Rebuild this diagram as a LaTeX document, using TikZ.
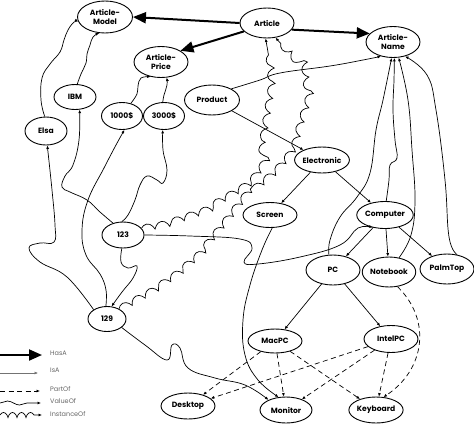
\documentclass[tikz,border=0pt]{standalone}
\usepackage{fontspec}
\setmainfont{Poppins}
\usetikzlibrary{shapes.geometric,arrows.meta,decorations.pathmorphing}
\begin{document}
\begin{tikzpicture}[x=1pt,y=-1pt,
  nd/.style={ellipse, draw, line width=0.9pt, inner sep=0pt, align=center, font=\fontsize{7.6}{8.4}\selectfont\bfseries},
  hasa/.style={line width=2pt, -{Triangle[length=13pt,width=11pt]}},
  isa/.style={line width=0.7pt, -{Latex[length=3.5pt,width=3pt]}},
  part/.style={line width=0.7pt, dash pattern=on 5pt off 3.5pt, -{Latex[length=3.5pt,width=3pt]}},
  val/.style={line width=0.7pt, -{Latex[length=3.5pt,width=3pt]}},
  inst/.style={line width=0.7pt, -{Latex[length=3.5pt,width=3pt]}, decorate,
    decoration={coil, aspect=0.6, segment length=15pt, amplitude=3.2pt, post length=6pt}},
  lg/.style={anchor=west, inner sep=0pt, text=black!60, font=\fontsize{6.5}{7}\selectfont}]
\useasboundingbox (0,0) rectangle (474,424);

% nodes
\node[nd, minimum width=55pt, minimum height=32pt] (am) at (105,17) {Article-\\Model};
\node[nd, minimum width=54pt, minimum height=30pt] (art) at (267,23) {Article};
\node[nd, minimum width=54pt, minimum height=31pt] (an) at (393,42) {Article-\\Name};
\node[nd, minimum width=54pt, minimum height=31pt] (ap) at (161,62) {Article-\\Price};
\node[nd, minimum width=42pt, minimum height=25pt] (ibm) at (75,97) {IBM};
\node[nd, minimum width=55pt, minimum height=30pt] (prod) at (212,100) {Product};
\node[nd, minimum width=41pt, minimum height=27pt] (k1) at (122,116) {1000\$};
\node[nd, minimum width=41pt, minimum height=27pt] (k3) at (164,116) {3000\$};
\node[nd, minimum width=42pt, minimum height=28pt] (elsa) at (46,131) {Elsa};
\node[nd, minimum width=54pt, minimum height=26pt] (el) at (322,160) {Electronic};
\node[nd, minimum width=54pt, minimum height=25pt] (scr) at (270,215) {Screen};
\node[nd, minimum width=54pt, minimum height=27pt] (comp) at (385,215) {Computer};
\node[nd, minimum width=42pt, minimum height=26pt] (n123) at (123,235) {123};
\node[nd, minimum width=54pt, minimum height=30pt] (pc) at (333,270) {PC};
\node[nd, minimum width=52pt, minimum height=30pt] (nb) at (389,272) {Notebook};
\node[nd, minimum width=54pt, minimum height=30pt] (pt) at (447,269) {PalmTop};
\node[nd, minimum width=38pt, minimum height=25pt] (n129) at (107,319) {129};
\node[nd, minimum width=54pt, minimum height=24pt] (mac) at (275,341) {MacPC};
\node[nd, minimum width=54pt, minimum height=27pt] (intel) at (391,339) {IntelPC};
\node[nd, minimum width=54pt, minimum height=26pt] (desk) at (188,406) {Desktop};
\node[nd, minimum width=52pt, minimum height=26pt] (mon) at (286,410) {Monitor};
\node[nd, minimum width=54pt, minimum height=26pt] (kb) at (376,410) {Keyboard};

% HasA
\draw[hasa] (art.west) -- (am.east);
\draw[hasa] (art.200) -- (ap.30);
\draw[hasa] (art.-15) -- (an.160);

% IsA
\draw[isa] (prod) -- (el);
\draw[isa] (el) -- (scr);
\draw[isa] (el) -- (comp);
\draw[isa] (comp) -- (pc);
\draw[isa] (comp) -- (nb);
\draw[isa] (comp) -- (pt);
\draw[isa] (pc) -- (mac);
\draw[isa] (pc) -- (intel);

% PartOf
\draw[part] (mac) -- (desk);
\draw[part] (intel) -- (desk);
\draw[part] (mac) -- (mon);
\draw[part] (mac) -- (kb);
\draw[part] (intel) -- (mon);
\draw[part] (intel) -- (kb);
\draw[part] (nb.-60) .. controls (432,320) and (425,370) .. (kb.60);

% ValueOf and other curves
\draw[val] plot[smooth, tension=0.7] coordinates {(elsa.95) (41,100) (42,78) (50,64) (60,52) (64,40) (68,30) (74,22) (am.190)};
\draw[val] plot[smooth, tension=0.7] coordinates {(ibm.80) (81,74) (86,63) (87,54) (90,45) (93,37) (am.250)};
\draw[val] plot[smooth, tension=0.7] coordinates {(k1.55) (137,94) (138,86) (141,78) (ap.235)};
\draw[val] plot[smooth, tension=0.7] coordinates {(k3.95) (164,95) (167,85) (ap.290)};
\draw[val] plot[smooth, tension=0.7] coordinates {(n123.130) (100,212) (87,200) (70,192) (62,187) (65,176) (73,165) (79,140) (ibm.-70)};
\draw[val] plot[smooth, tension=0.7] coordinates {(n123.95) (128,215) (135,200) (140,185) (147,176) (157,180) (163,183) (167,170) (163,150) (k3.-95)};
\draw[val] plot[smooth, tension=0.7] coordinates {(n129.95) (106,290) (100,274) (86,255) (82,230) (88,200) (104,168) (116,145) (k1.-80)};
\draw[val] plot[smooth, tension=0.7] coordinates {(n129.145) (67,277) (40,262) (29,248) (40,243) (54,242) (55,225) (52,190) (elsa.-85)};
\draw[val] plot[smooth, tension=0.7] coordinates {(n123.-95) (121,262) (128,268) (137,266) (133,278) (122,292) (n129.70)};
\draw[val] plot[smooth, tension=0.7] coordinates {(n123.east) (190,236) (240,239) (252,248) (244,262) (258,264) (300,257) (340,245) (358,228) (comp.225)};
\draw[val] plot[smooth, tension=0.7] coordinates {(scr.-80) (262,250) (250,285) (243,320) (245,355) (258,380) (mon.120)};
\draw[val] plot[smooth, tension=0.7] coordinates {(n129.-30) (145,345) (167,360) (172,345) (180,348) (188,368) (215,378) (245,385) (mon.150)};
\draw[val] plot[smooth, tension=0.7] coordinates {(prod.30) (260,80) (280,73) (330,66) (363,60) (an.230)};
\draw[val] plot[smooth, tension=0.7] coordinates {(pc.105) (330,240) (340,217) (357,197) (370,173) (376,130) (383,100) (an.-95)};
\draw[val] plot[smooth, tension=0.7] coordinates {(comp.85) (389,180) (390,165) (397,158) (395,140) (393,110) (394,80) (an.-85)};
\draw[val] plot[smooth, tension=0.7] coordinates {(nb.55) (411,235) (415,200) (412,150) (408,100) (an.-70)};
\draw[val] plot[smooth, tension=0.7] coordinates {(pt.55) (449,237) (445,180) (436,110) (427,75) (an.-50)};

% InstanceOf
\draw[inst] (n123.20) -- (165,224) -- (200,212) -- (228,196) -- (250,183) -- (262,166) -- (262,145) -- (266,120) -- (270,95) -- (271,70) -- (art.-95);
\draw[inst] (n129.40) -- (150,292) -- (175,275) -- (195,258) -- (212,238) -- (228,218) -- (245,196) -- (275,172) -- (293,150) -- (300,125) -- (308,100) -- (305,70) -- (art.-60);

% legend
\coordinate (h1) at (0,355); \coordinate (h2) at (42,355);
\coordinate (i1) at (0,373); \coordinate (i2) at (38,373);
\coordinate (p1) at (0,391); \coordinate (p2) at (40,391);
\coordinate (v1) at (0,403); \coordinate (v2) at (41,403);
\coordinate (s1) at (0,415); \coordinate (s2) at (42,415);
\draw[hasa] (h1) -- (h2);
\draw[isa, line width=0.5pt, draw=black!55] (i1) -- (i2);
\draw[part] (p1) -- (p2);
\draw[val, decorate, decoration={snake, amplitude=2pt, segment length=24pt, post length=6pt}] (v1) -- (v2);
\draw[val, decorate, decoration={coil, aspect=0.5, amplitude=2.5pt, segment length=9pt, post length=6pt}] (s1) -- (s2);
\node[lg] (lh) at (50,353) {HasA};
\node[lg] (li) at (50,370) {IsA};
\node[lg] (lp) at (50,389) {PartOf};
\node[lg] (lv) at (50,401) {ValueOf};
\node[lg] (ls) at (50,414) {InstanceOf};
\end{tikzpicture}
\end{document}
